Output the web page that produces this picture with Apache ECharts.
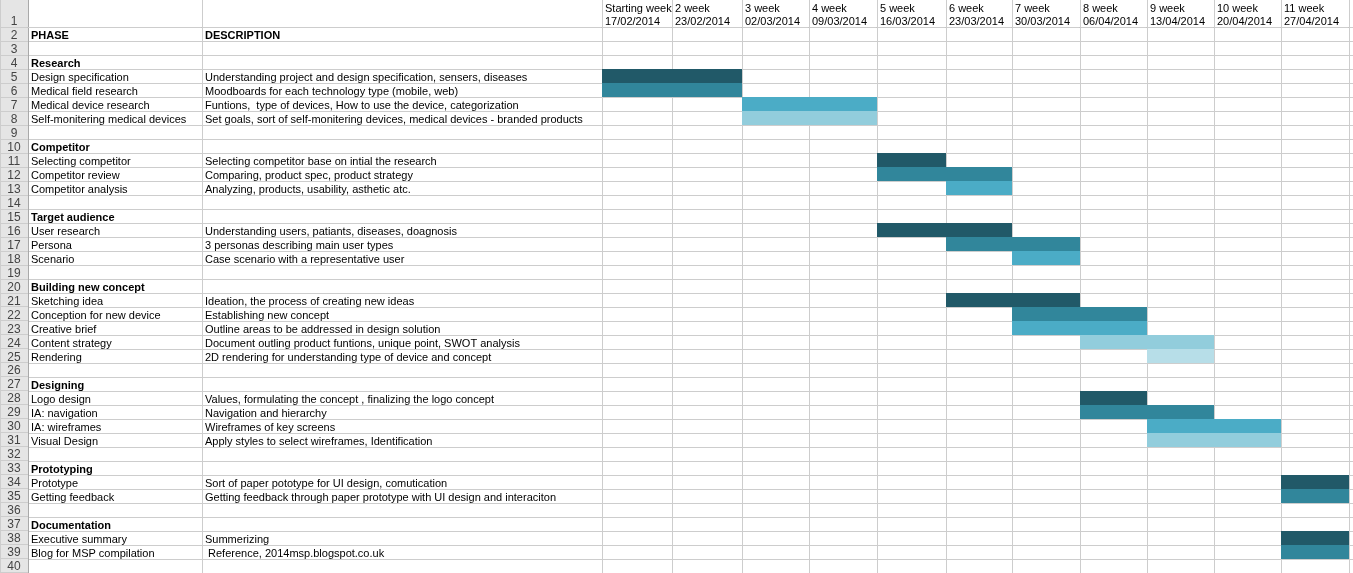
<!DOCTYPE html>
<html><head><meta charset="utf-8">
<script src="https://cdn.jsdelivr.net/npm/echarts@6/dist/echarts.min.js"></script>
<style>html,body{margin:0;padding:0;background:#fff;overflow:hidden}#c{width:1353px;height:573px}</style>
</head><body><div id="c"></div>
<script>
// ---------- DATA ----------
const weekNames = ['Starting week','2 week','3 week','4 week','5 week','6 week','7 week','8 week','9 week','10 week','11 week'];
const weekDates = ['17/02/2014','23/02/2014','02/03/2014','09/03/2014','16/03/2014','23/03/2014','30/03/2014','06/04/2014','13/04/2014','20/04/2014','27/04/2014'];
// spreadsheet rows 2..40
const phases = ['PHASE','','Research','Design specification','Medical field research','Medical device research','Self-monitering medical devices','',
  'Competitor','Selecting competitor','Competitor review','Competitor analysis','',
  'Target audience','User research','Persona','Scenario','',
  'Building new concept','Sketching idea','Conception for new device','Creative brief','Content strategy','Rendering','',
  'Designing','Logo design','IA: navigation','IA: wireframes','Visual Design','',
  'Prototyping','Prototype','Getting feedback','',
  'Documentation','Executive summary','Blog for MSP compilation',''];
const descriptions = ['DESCRIPTION','','',
  'Understanding project and design specification, sensers, diseases',
  'Moodboards for each technology type (mobile, web)',
  'Funtions,  type of devices, How to use the device, categorization',
  'Set goals, sort of self-monitering devices, medical devices - branded products','',
  '','Selecting competitor base on intial the research','Comparing, product spec, product strategy','Analyzing, products, usability, asthetic atc.','',
  '','Understanding users, patiants, diseases, doagnosis','3 personas describing main user types','Case scenario with a representative user','',
  '','Ideation, the process of creating new ideas','Establishing new concept','Outline areas to be addressed in design solution',
  'Document outling product funtions, unique point, SWOT analysis','2D rendering for understanding type of device and concept','',
  '','Values, formulating the concept , finalizing the logo concept','Navigation and hierarchy','Wireframes of key screens','Apply styles to select wireframes, Identification','',
  '','Sort of paper pototype for UI design, comutication','Getting feedback through paper prototype with UI design and interaciton','',
  '','Summerizing',' Reference, 2014msp.blogspot.co.uk',''];
const headings = ['PHASE','DESCRIPTION','Research','Competitor','Target audience','Building new concept','Designing','Prototyping','Documentation'];
// week index (0 = starting week) where each task starts, and how many weeks it lasts
const startWeek = [null,null,null,0,0,2,2,null, null,4,4,5,null, null,4,5,6,null, null,5,6,6,7,8,null, null,7,7,8,8,null, null,10,10,null, null,10,10,null];
const durationWeeks = [null,null,null,2,2,2,2,null, null,1,2,1,null, null,2,2,1,null, null,2,2,2,2,1,null, null,1,2,2,2,null, null,1,1,null, null,1,1,null];
const shadeLevel = [null,null,null,1,2,3,4,null, null,1,2,3,null, null,1,2,3,null, null,1,2,3,4,5,null, null,1,2,3,4,null, null,1,2,null, null,1,2,null];

// ---------- STYLE / LAYOUT ----------
const FONT = '"Liberation Sans", Arial, Helvetica, sans-serif';
const FS = 11;
const LINE = '#cdcdcd';
const DARKLINE = '#a9a9a9';
const HEADBG = '#e5e5e5';
const shadeColors = ['#215968','#31869b','#4bacc6','#92cddc','#b7dee8'];
const colWidths = [28,174,400, 70,70,67,68,69,66,68,67,67,67,68, 4];
const HEAD_H = 27, BODY_H = 546;

const rowNums = phases.map((_, i) => String(i + 2));
const boldFmt = arr => (v, i) => { const t = arr[i] || ''; return headings.includes(t) ? '{b|' + t + '}' : t; };
const rich = { b: { fontWeight: 'bold', fontSize: FS, fontFamily: FONT, color: '#000' } };
const numRich = { n: { fontSize: 12, fontFamily: FONT, color: '#444' } };

const grid = [], xAxis = [], yAxis = [], series = [];
let left = 0;
colWidths.forEach((w, c) => {
  const isNum = c === 0;
  const wk = c - 3;
  const isWeek = wk >= 0 && wk < weekNames.length;
  const vline = c === 1 ? DARKLINE : LINE;
  // ---- header grid (row 1)
  const hg = grid.length;
  grid.push({ left: left, top: 0, width: w, height: HEAD_H, show: isNum, backgroundColor: isNum ? HEADBG : 'transparent', borderWidth: 0 });
  if (isNum) {
    xAxis.push({ gridIndex: hg, type: 'category', data: ['1'], position: 'top',
      axisLine: { show: true, lineStyle: { color: DARKLINE } }, axisTick: { show: false },
      axisLabel: { inside: true, margin: 2, verticalAlign: 'top', padding: [14, 0, 0, 0], color: '#444', fontSize: 12, fontFamily: FONT } });
  } else {
    xAxis.push({ gridIndex: hg, type: 'value', min: 0, max: 1, interval: 1, position: 'top',
      axisLine: { show: true, lineStyle: { color: DARKLINE } }, axisTick: { show: false }, splitLine: { show: false },
      axisLabel: isWeek ? { show: true, inside: true, margin: 2, verticalAlign: 'top', align: 'left', lineHeight: 13, padding: [0, 0, 0, 3],
        showMaxLabel: false, color: '#000', fontSize: FS, fontFamily: FONT,
        formatter: v => v === 0 ? weekNames[wk] + '\n' + weekDates[wk] : '' } : { show: false } });
  }
  yAxis.push({ gridIndex: hg, type: 'value', min: 0, max: 1, position: 'left',
    axisLine: { show: true, lineStyle: { color: vline } }, axisTick: { show: false }, axisLabel: { show: false }, splitLine: { show: false } });

  // ---- body grid (rows 2..40)
  const bg = grid.length;
  grid.push({ left: left, top: HEAD_H, width: w, height: BODY_H, show: isNum, backgroundColor: isNum ? HEADBG : 'transparent', borderWidth: 0 });
  xAxis.push({ gridIndex: bg, type: 'value', min: 0, max: 1, position: 'top',
    axisLine: { show: true, lineStyle: { color: LINE } }, axisTick: { show: false }, axisLabel: { show: false }, splitLine: { show: false } });
  let label = { show: false };
  if (isNum) label = { show: true, inside: true, interval: 0, align: 'center', margin: 14, padding: [3, 0, 0, 0], color: '#444', fontSize: 12, fontFamily: FONT,
    formatter: v => '{n|' + v + '}', rich: numRich };
  if (c === 1) label = { show: true, inside: true, interval: 0, align: 'left', margin: 3, padding: [3, 0, 0, 0], color: '#000', fontSize: FS, fontFamily: FONT, formatter: boldFmt(phases), rich };
  if (c === 2) label = { show: true, inside: true, interval: 0, align: 'left', margin: 3, padding: [3, 0, 0, 0], color: '#000', fontSize: FS, fontFamily: FONT, formatter: boldFmt(descriptions), rich };
  yAxis.push({ gridIndex: bg, type: 'category', data: rowNums, inverse: true, position: 'left',
    axisLine: { show: true, lineStyle: { color: vline } }, axisTick: { show: false },
    splitLine: { show: true, interval: 0, lineStyle: { color: LINE } }, axisLabel: label });

  if (isWeek) {
    series.push({
      type: 'bar', xAxisIndex: bg, yAxisIndex: bg, barWidth: '100%', silent: true, z: 3,
      data: rowNums.map((_, i) => {
        const s = startWeek[i], d = durationWeeks[i];
        if (s === null || d === null) return '-';
        if (wk < s || wk >= s + d) return '-';
        return { value: 1, itemStyle: { color: shadeColors[shadeLevel[i] - 1] } };
      })
    });
  }
  left += w;
});

const chart = echarts.init(document.getElementById('c'));
chart.setOption({ animation: false, grid, xAxis, yAxis, series });
</script></body></html>
